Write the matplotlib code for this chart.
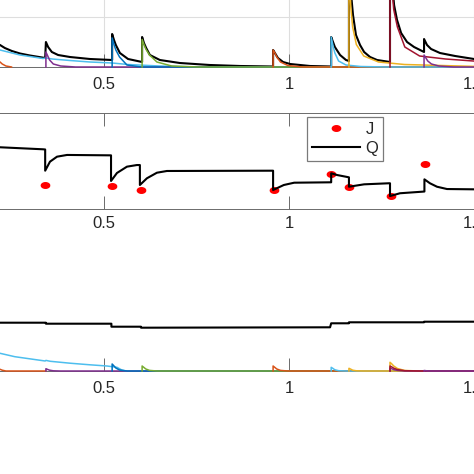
import numpy as np
import matplotlib
matplotlib.use('Agg')
import matplotlib.pyplot as plt
from matplotlib.lines import Line2D

plt.rcParams['font.family'] = ['Liberation Sans', 'DejaVu Sans']

BLUE = '#0072BD'; ORANGE = '#D95319'; YELLOW = '#EDB120'; PURPLE = '#7E2F8E'
GREEN = '#77AC30'; CYAN = '#4DBEEE'; CRIMSON = '#A2142F'

T_END = 1.56
# sample offsets after each event (time units)
dt = [0, 0.005, 0.01, 0.02, 0.04, 0.08, 0.15, 0.3]

# ---------------- panel 1 data ----------------
top_events = [0.343, 0.522, 0.603, 0.957, 1.114, 1.162, 1.273, 1.365]
top_colors = [PURPLE, BLUE, GREEN, ORANGE, CYAN, YELLOW, CRIMSON, PURPLE]
top_values = [
    [0.30, 0.22, 0.14, 0.06, 0.02, 0.0, 0.0, 0.0],
    [0.58, 0.45, 0.34, 0.20, 0.04, 0.0, 0.0, 0.0],
    [0.55, 0.45, 0.36, 0.24, 0.10, 0.02, 0.0, 0.0],
    [0.34, 0.28, 0.20, 0.10, 0.03, 0.0, 0.0, 0.0],
    [0.60, 0.42, 0.28, 0.12, 0.04, 0.01, 0.0, 0.0],
    [2.20, 1.20, 0.80, 0.45, 0.22, 0.10, 0.05, 0.02],
    [2.80, 1.60, 1.15, 0.80, 0.40, 0.22, 0.16, 0.08],
    [0.24, 0.18, 0.12, 0.06, 0.02, 0.0, 0.0, 0.0],
]
top_cyan_x = [0.19, 0.219, 0.273, 0.335, 0.343, 0.36, 0.408, 0.462, 0.522, 0.565, 0.65, 0.75]
top_cyan_y = [0.38, 0.34, 0.24, 0.17, 0.18, 0.16, 0.13, 0.10, 0.08, 0.05, 0.02, 0.0]
top_orange_x = [0.20, 0.205, 0.219, 0.225, 0.235, 0.25]
top_orange_y = [0.0, 0.16, 0.10, 0.06, 0.02, 0.0]

top_black_x = [0.19, 0.219, 0.232, 0.251, 0.273, 0.300, 0.341, 0.343, 0.349, 0.359, 0.376,
               0.408, 0.462, 0.522, 0.522, 0.527, 0.532, 0.543, 0.565, 0.603, 0.603, 0.608,
               0.614, 0.624, 0.651, 0.705, 0.786, 0.868, 0.957, 0.957, 0.962, 0.970, 0.984,
               1.003, 1.057, 1.114, 1.114, 1.119, 1.124, 1.138, 1.154, 1.162, 1.162, 1.168,
               1.173, 1.181, 1.192, 1.203, 1.219, 1.238, 1.273, 1.273, 1.278, 1.284, 1.292,
               1.303, 1.319, 1.338, 1.365, 1.365, 1.373, 1.384, 1.408, 1.449, 1.500, 1.560]
top_black_y = [0.50, 0.44, 0.38, 0.32, 0.27, 0.23, 0.18, 0.50, 0.40, 0.30, 0.24,
               0.20, 0.16, 0.14, 0.66, 0.54, 0.44, 0.28, 0.16, 0.10, 0.60, 0.48,
               0.38, 0.24, 0.14, 0.08, 0.04, 0.02, 0.01, 0.34, 0.28, 0.18, 0.10,
               0.06, 0.02, 0.01, 0.60, 0.50, 0.40, 0.24, 0.14, 0.12, 2.20, 1.44,
               1.04, 0.64, 0.44, 0.30, 0.20, 0.14, 0.10, 2.80, 1.74, 1.24, 0.94,
               0.68, 0.50, 0.40, 0.30, 0.56, 0.44, 0.36, 0.28, 0.22, 0.16, 0.13]

# ---------------- panel 2 data ----------------
Q_x = [0.19, 0.219, 0.335, 0.341, 0.341, 0.354, 0.373, 0.400, 0.516, 0.519, 0.519, 0.535,
       0.562, 0.589, 0.597, 0.597, 0.616, 0.643, 0.670, 0.954, 0.957, 0.957, 0.986, 1.014,
       1.111, 1.114, 1.114, 1.130, 1.162, 1.162, 1.203, 1.270, 1.273, 1.273, 1.300, 1.359,
       1.366, 1.366, 1.381, 1.400, 1.427, 1.500, 1.560]
Q_y = [6.45, 6.43, 6.22, 6.20, 3.99, 4.93, 5.45, 5.63, 5.59, 5.59, 2.92, 3.75,
       4.41, 4.58, 4.58, 2.50, 3.20, 3.78, 3.96, 3.99, 3.99, 1.98, 2.50, 2.74,
       2.78, 2.78, 3.72, 3.54, 3.30, 2.32, 2.57, 2.68, 2.68, 1.35, 1.64, 1.80,
       1.82, 3.09, 2.68, 2.32, 2.08, 2.05, 2.05]
J_x = [0.341, 0.522, 0.600, 0.959, 1.114, 1.162, 1.276, 1.368]
J_y = [2.50, 2.40, 1.98, 1.98, 3.65, 2.29, 1.35, 4.69]

# ---------------- panel 3 data ----------------
bot_events = [0.343, 0.522, 0.603, 0.957, 1.114, 1.162, 1.273, 1.273, 1.273, 1.365]
bot_colors = [PURPLE, BLUE, GREEN, ORANGE, CYAN, YELLOW, YELLOW, PURPLE, CRIMSON, PURPLE]
bot_values = [
    [0.23, 0.15, 0.08, 0.02, 0.0, 0.0, 0.0, 0.0],
    [0.70, 0.50, 0.30, 0.10, 0.0, 0.0, 0.0, 0.0],
    [0.50, 0.35, 0.20, 0.06, 0.0, 0.0, 0.0, 0.0],
    [0.50, 0.35, 0.20, 0.06, 0.0, 0.0, 0.0, 0.0],
    [0.37, 0.25, 0.12, 0.03, 0.0, 0.0, 0.0, 0.0],
    [0.27, 0.18, 0.08, 0.02, 0.0, 0.0, 0.0, 0.0],
    [0.87, 0.70, 0.50, 0.25, 0.05, 0.0, 0.0, 0.0],
    [0.30, 0.22, 0.14, 0.06, 0.0, 0.0, 0.0, 0.0],
    [0.50, 0.40, 0.28, 0.14, 0.03, 0.0, 0.0, 0.0],
    [0.05, 0.03, 0.0, 0.0, 0.0, 0.0, 0.0, 0.0],
]
bot_cyan_x = [0.19, 0.219, 0.259, 0.341, 0.343, 0.355, 0.408, 0.462, 0.508, 0.535, 0.548, 0.56]
bot_cyan_y = [1.85, 1.77, 1.43, 1.00, 1.06, 0.97, 0.78, 0.62, 0.50, 0.37, 0.10, 0.0]
bot_orange_x = [0.20, 0.205, 0.219, 0.225, 0.235, 0.343]
bot_orange_y = [0.0, 0.25, 0.17, 0.08, 0.0, 0.0]
bot_black_x = [0.19, 0.343, 0.343, 0.520, 0.520, 0.600, 0.600, 1.111, 1.114, 1.162, 1.162,
               1.365, 1.365, 1.560]
bot_black_y = [4.83, 4.83, 4.73, 4.73, 4.43, 4.43, 4.33, 4.37, 4.77, 4.77, 4.87,
               4.87, 4.93, 4.93]

xticks = [0, 0.5, 1, 1.5]
xticklabels = ['0', '0.5', '1', '1.5']


def spike_xy(t, vals):
    xs = [t] + [t + d for d in dt]
    ys = [0.0] + list(vals)
    if xs[-1] < T_END:
        xs.append(T_END)
        ys.append(0.0)
    return xs, ys


# slightly flattened dot marker (as in the reference rendering)
_a = np.linspace(0, 2 * np.pi, 40)
DOT = np.column_stack([1.5 * np.cos(_a), np.sin(_a)])

W = 474.0
fig = plt.figure(figsize=(4.74, 4.74), dpi=100)
fig.patch.set_facecolor('white')

# axis x-range: 0.5 -> px 104, 1.0 -> px 289
xl = (0.0, 1.6)
left = (104 - 0.5 * 370) / W
width = (xl[1] - xl[0]) * 370 / W

AX_COL = '#6b6b6b'
TXT_COL = '#262626'


def style(ax, top_box=True, pad=6.5):
    ax.set_xlim(*xl)
    ax.set_xticks(xticks)
    ax.set_xticklabels(xticklabels)
    ax.tick_params(axis='both', direction='in', length=9.5, width=0.7, color=AX_COL,
                   labelsize=12, labelcolor=TXT_COL, pad=pad, top=top_box, right=top_box)
    for s in ax.spines.values():
        s.set_color(AX_COL)
        s.set_linewidth(0.7)
    if not top_box:
        ax.spines['top'].set_visible(False)
        ax.spines['right'].set_visible(False)


# ---- panel 1
ax1 = fig.add_axes([left, 1 - 67 / W, width, 150 / W])
style(ax1, pad=7.0)
ax1.set_ylim(0, 3)
ax1.set_yticks([0, 1, 2, 3])
ax1.grid(True, color='#dedede', linewidth=0.8)
ax1.set_axisbelow(True)
ax1.plot(top_black_x, top_black_y, color='black', lw=1.5, clip_on=False, zorder=2)
ax1.plot(top_cyan_x, top_cyan_y, color=CYAN, lw=1.1, clip_on=False, zorder=3)
ax1.plot(top_orange_x, top_orange_y, color=ORANGE, lw=1.1, clip_on=False, zorder=3)
for t, c, v in zip(top_events, top_colors, top_values):
    xs, ys = spike_xy(t, v)
    ax1.plot(xs, ys, color=c, lw=1.1, clip_on=False, zorder=3)

# ---- panel 2
ax2 = fig.add_axes([left, 1 - 209 / W, width, 96 / W])
style(ax2, pad=5.0)
ax2.set_ylim(0, 10)
ax2.set_yticks([0, 5, 10])
ax2.plot(J_x, J_y, linestyle='none', marker=DOT, ms=6.0, color='#ff0000', mec='#ff0000')
ax2.plot(Q_x, Q_y, color='black', lw=1.5)
handles = [Line2D([], [], linestyle='none', marker=DOT, ms=6.0, color='#ff0000'),
           Line2D([], [], color='black', lw=1.5)]
leg = ax2.legend(handles, ['J', 'Q'], loc='upper left',
                 bbox_to_anchor=(307 / W, 1 - 117 / W), bbox_transform=fig.transFigure,
                 borderaxespad=0, fontsize=12, frameon=True, fancybox=False,
                 edgecolor='#7a7a7a', framealpha=1, borderpad=0.3, labelspacing=0.25,
                 handlelength=2.9, handletextpad=0.3, numpoints=1)
leg.get_frame().set_linewidth(0.9)
for txt in leg.get_texts():
    txt.set_color(TXT_COL)

# ---- panel 3
ax3 = fig.add_axes([left, 1 - 371 / W, width, 100 / W])
style(ax3, top_box=False, pad=7.0)
ax3.set_ylim(0, 10)
ax3.set_yticks([0, 5, 10])
ax3.plot(bot_black_x, bot_black_y, color='black', lw=1.5, clip_on=False, zorder=2)
ax3.plot(bot_cyan_x, bot_cyan_y, color=CYAN, lw=1.1, clip_on=False, zorder=3)
ax3.plot(bot_orange_x, bot_orange_y, color=ORANGE, lw=1.1, clip_on=False, zorder=3)
for t, c, v in zip(bot_events, bot_colors, bot_values):
    xs, ys = spike_xy(t, v)
    ax3.plot(xs, ys, color=c, lw=1.1, clip_on=False, zorder=3)

fig.savefig('out.png', dpi=100, facecolor='white')
